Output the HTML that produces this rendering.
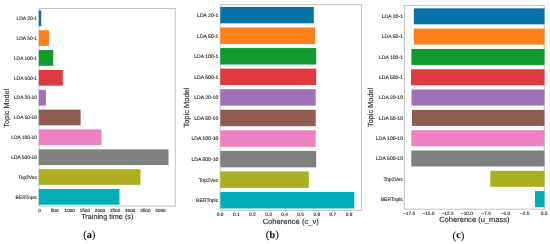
<!DOCTYPE html>
<html><head><meta charset="utf-8"><title>Topic model comparison</title>
<style>
html,body{margin:0;padding:0;background:#fff;}
svg{display:block;}
text{text-rendering:geometricPrecision;font-family:"Liberation Sans",Arial,sans-serif;fill:#303030;stroke:#303030;stroke-width:0.15;}
text.cap{stroke-width:0.1;stroke:#111;font-family:"Liberation Serif","Palatino Linotype",serif;fill:#111;}
</style></head>
<body>
<svg width="550" height="244" viewBox="0 0 550 244">
<rect x="0" y="0" width="550" height="244" fill="#ffffff"/>
<rect x="39.00" y="8.50" width="136.30" height="197.60" fill="none" stroke="#c4c4c4" stroke-width="1"/>
<rect x="38.80" y="10.38" width="2.45" height="15.70" fill="#0672a7"/>
<rect x="38.80" y="30.23" width="10.13" height="15.70" fill="#ff7f1a"/>
<rect x="38.80" y="50.08" width="14.46" height="15.70" fill="#109a2e"/>
<rect x="38.80" y="69.93" width="23.98" height="15.70" fill="#df3a3e"/>
<rect x="38.80" y="89.78" width="7.11" height="15.70" fill="#a070b9"/>
<rect x="38.80" y="109.62" width="41.83" height="15.70" fill="#905a50"/>
<rect x="38.80" y="129.47" width="62.75" height="15.70" fill="#ee82c0"/>
<rect x="38.80" y="149.33" width="129.67" height="15.70" fill="#808080"/>
<rect x="38.80" y="169.18" width="101.70" height="15.70" fill="#adae20"/>
<rect x="38.80" y="189.03" width="80.68" height="15.70" fill="#00adb9"/>
<text x="37.00" y="19.98" font-size="4.9" text-anchor="end">LDA 20-1</text>
<text x="37.00" y="39.83" font-size="4.9" text-anchor="end">LDA 50-1</text>
<text x="37.00" y="59.68" font-size="4.9" text-anchor="end">LDA 100-1</text>
<text x="37.00" y="79.53" font-size="4.9" text-anchor="end">LDA 500-1</text>
<text x="37.00" y="99.38" font-size="4.9" text-anchor="end">LDA 20-10</text>
<text x="37.00" y="119.23" font-size="4.9" text-anchor="end">LDA 50-10</text>
<text x="37.00" y="139.08" font-size="4.9" text-anchor="end">LDA 100-10</text>
<text x="37.00" y="158.93" font-size="4.9" text-anchor="end">LDA 500-10</text>
<text x="37.00" y="178.78" font-size="4.9" text-anchor="end">Top2Vec</text>
<text x="37.00" y="198.63" font-size="4.9" text-anchor="end">BERTopic</text>
<text x="39.50" y="212.45" font-size="4.6" text-anchor="middle">0</text>
<text x="54.62" y="212.45" font-size="4.6" text-anchor="middle">500</text>
<text x="69.74" y="212.45" font-size="4.6" text-anchor="middle">1000</text>
<text x="84.86" y="212.45" font-size="4.6" text-anchor="middle">1500</text>
<text x="99.98" y="212.45" font-size="4.6" text-anchor="middle">2000</text>
<text x="115.10" y="212.45" font-size="4.6" text-anchor="middle">2500</text>
<text x="130.22" y="212.45" font-size="4.6" text-anchor="middle">3000</text>
<text x="145.34" y="212.45" font-size="4.6" text-anchor="middle">3500</text>
<text x="160.46" y="212.45" font-size="4.6" text-anchor="middle">4000</text>
<text x="107.30" y="219.30" font-size="7.27" text-anchor="middle">Training time (s)</text>
<text transform="translate(8.80,108.20) rotate(-90)" font-size="7.25" text-anchor="middle">Topic Model</text>
<text x="89.30" y="237.90" font-size="10.8" text-anchor="middle" class="cap"><tspan dy="0.4">(</tspan><tspan font-weight="bold" font-size="10.2" dy="-0.4">a</tspan><tspan dy="0.4">)</tspan></text>
<rect x="220.20" y="4.60" width="141.40" height="205.70" fill="none" stroke="#c4c4c4" stroke-width="1"/>
<rect x="220.30" y="6.91" width="93.50" height="16.45" fill="#0672a7"/>
<rect x="220.30" y="27.48" width="94.70" height="16.45" fill="#ff7f1a"/>
<rect x="220.30" y="48.05" width="95.90" height="16.45" fill="#109a2e"/>
<rect x="220.30" y="68.62" width="95.90" height="16.45" fill="#df3a3e"/>
<rect x="220.30" y="89.19" width="95.40" height="16.45" fill="#a070b9"/>
<rect x="220.30" y="109.76" width="95.40" height="16.45" fill="#905a50"/>
<rect x="220.30" y="130.33" width="95.40" height="16.45" fill="#ee82c0"/>
<rect x="220.30" y="150.90" width="95.90" height="16.45" fill="#808080"/>
<rect x="220.30" y="171.47" width="88.55" height="16.45" fill="#adae20"/>
<rect x="220.30" y="192.04" width="134.00" height="16.45" fill="#00adb9"/>
<text x="218.30" y="16.96" font-size="5.1" text-anchor="end">LDA 20-1</text>
<text x="218.30" y="37.53" font-size="5.1" text-anchor="end">LDA 50-1</text>
<text x="218.30" y="58.10" font-size="5.1" text-anchor="end">LDA 100-1</text>
<text x="218.30" y="78.67" font-size="5.1" text-anchor="end">LDA 500-1</text>
<text x="218.30" y="99.24" font-size="5.1" text-anchor="end">LDA 20-10</text>
<text x="218.30" y="119.81" font-size="5.1" text-anchor="end">LDA 50-10</text>
<text x="218.30" y="140.38" font-size="5.1" text-anchor="end">LDA 100-10</text>
<text x="218.30" y="160.95" font-size="5.1" text-anchor="end">LDA 500-10</text>
<text x="218.30" y="181.52" font-size="5.1" text-anchor="end">Top2Vec</text>
<text x="218.30" y="202.09" font-size="5.1" text-anchor="end">BERTopic</text>
<text x="220.20" y="216.22" font-size="4.8" text-anchor="middle">0.0</text>
<text x="236.30" y="216.22" font-size="4.8" text-anchor="middle">0.1</text>
<text x="252.40" y="216.22" font-size="4.8" text-anchor="middle">0.2</text>
<text x="268.50" y="216.22" font-size="4.8" text-anchor="middle">0.3</text>
<text x="284.60" y="216.22" font-size="4.8" text-anchor="middle">0.4</text>
<text x="300.70" y="216.22" font-size="4.8" text-anchor="middle">0.5</text>
<text x="316.80" y="216.22" font-size="4.8" text-anchor="middle">0.6</text>
<text x="332.90" y="216.22" font-size="4.8" text-anchor="middle">0.7</text>
<text x="349.00" y="216.22" font-size="4.8" text-anchor="middle">0.8</text>
<text x="290.70" y="223.50" font-size="7.6" text-anchor="middle">Coherence (c_v)</text>
<text transform="translate(188.70,107.60) rotate(-90)" font-size="7.5" text-anchor="middle">Topic Model</text>
<text x="272.30" y="237.90" font-size="10.8" text-anchor="middle" class="cap"><tspan dy="0.4">(</tspan><tspan font-weight="bold" font-size="10.2" dy="-0.4">b</tspan><tspan dy="0.4">)</tspan></text>
<rect x="404.40" y="5.50" width="139.80" height="203.70" fill="none" stroke="#c4c4c4" stroke-width="1"/>
<rect x="413.80" y="8.32" width="130.70" height="16.00" fill="#0672a7"/>
<rect x="413.80" y="28.63" width="130.70" height="16.00" fill="#ff7f1a"/>
<rect x="411.40" y="48.95" width="133.10" height="16.00" fill="#109a2e"/>
<rect x="411.00" y="69.25" width="133.50" height="16.00" fill="#df3a3e"/>
<rect x="411.50" y="89.56" width="133.00" height="16.00" fill="#a070b9"/>
<rect x="412.00" y="109.88" width="132.50" height="16.00" fill="#905a50"/>
<rect x="411.30" y="130.18" width="133.20" height="16.00" fill="#ee82c0"/>
<rect x="411.30" y="150.49" width="133.20" height="16.00" fill="#808080"/>
<rect x="490.30" y="170.80" width="54.20" height="16.00" fill="#adae20"/>
<rect x="535.00" y="191.11" width="9.50" height="16.00" fill="#00adb9"/>
<text x="403.00" y="18.16" font-size="5.12" text-anchor="end">LDA 20-1</text>
<text x="403.00" y="38.47" font-size="5.12" text-anchor="end">LDA 50-1</text>
<text x="403.00" y="58.78" font-size="5.12" text-anchor="end">LDA 100-1</text>
<text x="403.00" y="79.09" font-size="5.12" text-anchor="end">LDA 500-1</text>
<text x="403.00" y="99.40" font-size="5.12" text-anchor="end">LDA 20-10</text>
<text x="403.00" y="119.71" font-size="5.12" text-anchor="end">LDA 50-10</text>
<text x="403.00" y="140.02" font-size="5.12" text-anchor="end">LDA 100-10</text>
<text x="403.00" y="160.33" font-size="5.12" text-anchor="end">LDA 500-10</text>
<text x="403.00" y="180.64" font-size="5.12" text-anchor="end">Top2Vec</text>
<text x="403.00" y="200.95" font-size="5.12" text-anchor="end">BERTopic</text>
<text x="544.00" y="214.72" font-size="4.8" text-anchor="middle">0.0</text>
<text x="524.73" y="214.72" font-size="4.8" text-anchor="middle">−2.5</text>
<text x="505.45" y="214.72" font-size="4.8" text-anchor="middle">−5.0</text>
<text x="486.18" y="214.72" font-size="4.8" text-anchor="middle">−7.5</text>
<text x="466.90" y="214.72" font-size="4.8" text-anchor="middle">−10.0</text>
<text x="447.62" y="214.72" font-size="4.8" text-anchor="middle">−12.5</text>
<text x="428.35" y="214.72" font-size="4.8" text-anchor="middle">−15.0</text>
<text x="409.07" y="214.72" font-size="4.8" text-anchor="middle">−17.5</text>
<text x="474.40" y="222.30" font-size="7.55" text-anchor="middle">Coherence (u_mass)</text>
<text transform="translate(373.40,107.40) rotate(-90)" font-size="7.35" text-anchor="middle">Topic Model</text>
<text x="458.40" y="238.20" font-size="10.8" text-anchor="middle" class="cap"><tspan dy="0.4">(</tspan><tspan font-weight="bold" font-size="10.2" dy="-0.4">c</tspan><tspan dy="0.4">)</tspan></text>
</svg>
</body></html>
